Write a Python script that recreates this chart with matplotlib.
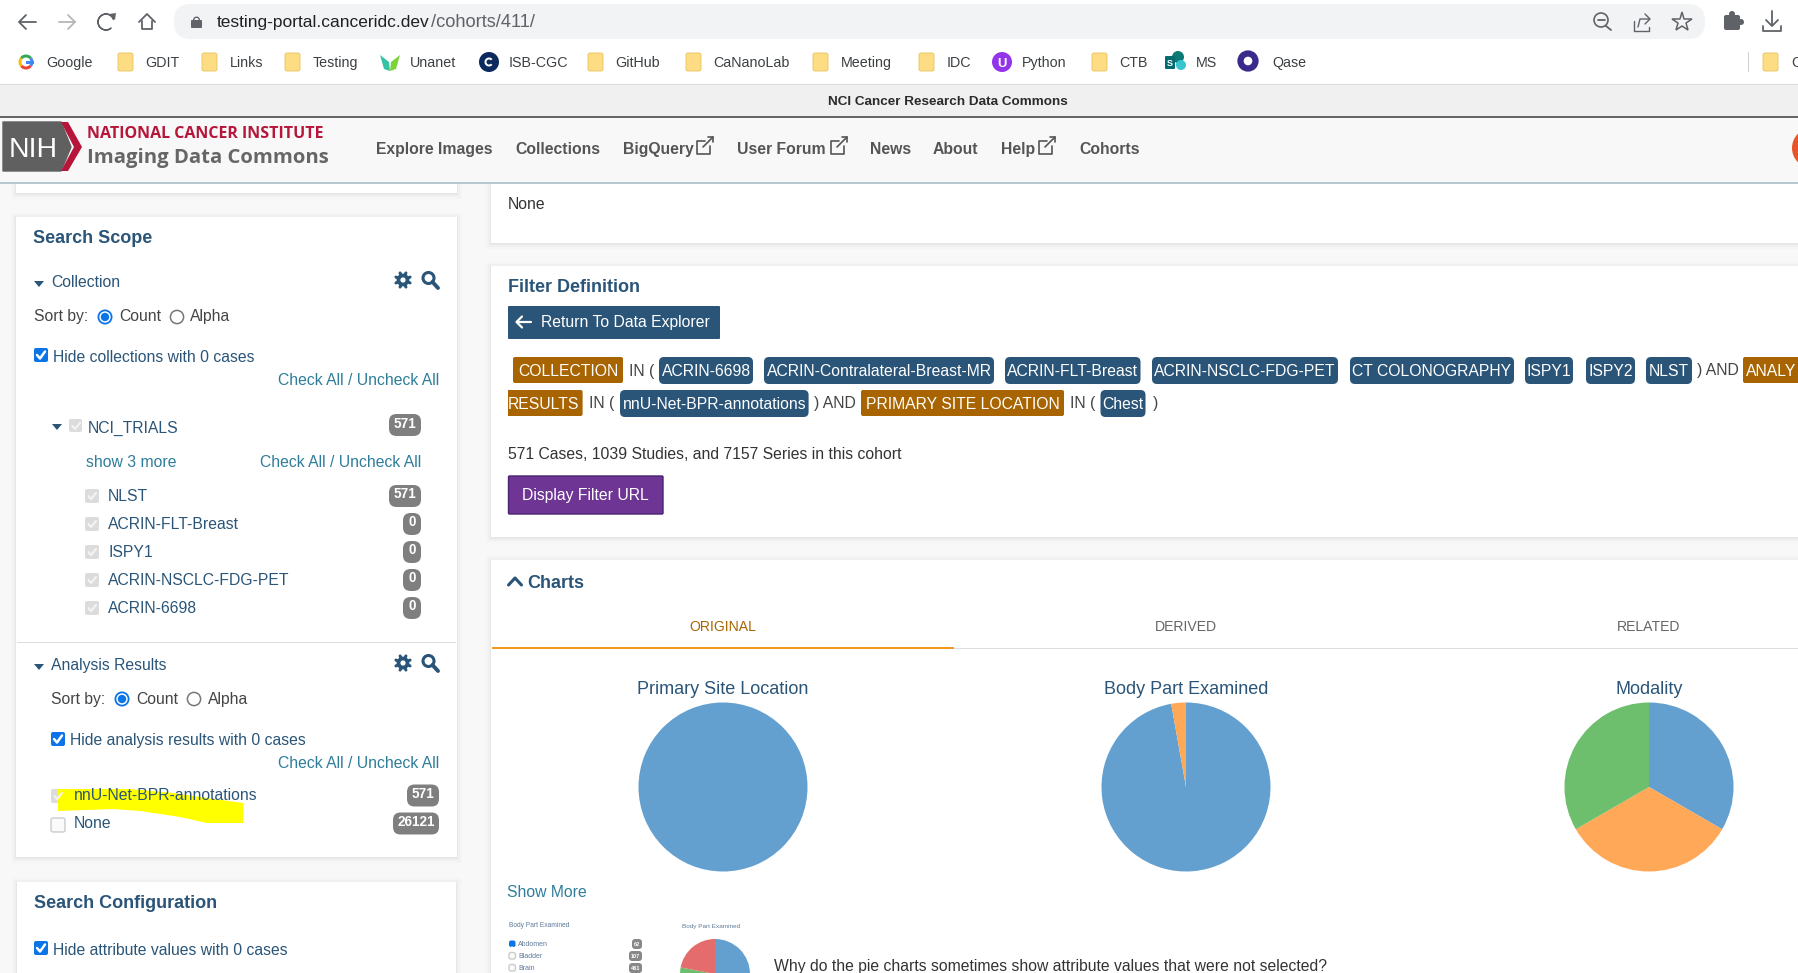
import matplotlib
matplotlib.use("Agg")
import matplotlib.pyplot as plt
import numpy as np
from matplotlib.patches import Rectangle, FancyBboxPatch, Circle, Polygon, Wedge

W = 1798
H = 973
plt.rcParams['font.family'] = ['Liberation Sans', 'DejaVu Sans']

# data
bookmarks = ["Google", "GDIT", "Links", "Testing", "Unanet", "ISB-CGC", "GitHub", "CaNanoLab",
             "Meeting", "IDC", "Python", "CTB", "MS", "Qase", "C"]
nav_items = ["Explore Images", "Collections", "BigQuery", "User Forum", "News", "About", "Help", "Cohorts"]
collection_names = ["NLST", "ACRIN-FLT-Breast", "ISPY1", "ACRIN-NSCLC-FDG-PET", "ACRIN-6698"]
collection_counts = ["571", "0", "0", "0", "0"]
analysis_names = ["nnU-Net-BPR-annotations", "None"]
analysis_counts = ["571", "26121"]
row1_chips = ["ACRIN-6698", "ACRIN-Contralateral-Breast-MR", "ACRIN-FLT-Breast", "ACRIN-NSCLC-FDG-PET",
              "CT COLONOGRAPHY", "ISPY1", "ISPY2", "NLST"]
tabs = ["ORIGINAL", "DERIVED", "RELATED"]
pie_titles = ["Primary Site Location", "Body Part Examined", "Modality"]
primary_site = [571]
body_part = [555, 16]
modality = [571, 571, 571]
mini_names = ["Abdomen", "Bladder", "Brain"]
mini_counts = ["62", "107", "461"]
mini_pie = [50, 20, 8, 22]

BLUE = "#64a0cf"
ORANGE = "#ffa857"
GREEN = "#6dbe6d"
RED = "#e56c6c"
pie_colors = [BLUE, ORANGE, GREEN, RED]
NAVY = "#2a5578"
TEAL = "#2e7d9a"
CHIP_ORANGE = "#a86400"
BADGE = "#7f7f7f"
CHECK = "#0b75e8"
FOLDER = "#fddc83"

fig = plt.figure(figsize=(W / 100, H / 100), dpi=100, facecolor="white")
ax = fig.add_axes([0, 0, 1, 1])
ax.set_xlim(0, W)
ax.set_ylim(H, 0)
ax.axis("off")


def txt(x, y, s, px=15.7, color=NAVY, weight="normal", ha="left", width=None, family=None, z=5):
    t = ax.text(x, y, s, fontsize=px * 0.72, color=color, fontweight=weight, ha=ha, va="baseline", zorder=z)
    if family:
        t.set_family(family)
    if width:
        bb = t.get_window_extent(fig.canvas.get_renderer())
        t.set_fontsize(px * 0.72 * width / bb.width)
    return t


def rect(x0, y0, x1, y1, color, z=1, alpha=None):
    ax.add_patch(Rectangle((x0, y0), x1 - x0, y1 - y0, fc=color, ec="none", zorder=z, alpha=alpha))


def rrect(x0, y0, x1, y1, color, r=4, z=2, ec="none", lw=0):
    ax.add_patch(FancyBboxPatch((x0, y0), x1 - x0, y1 - y0, boxstyle="round,pad=0,rounding_size=%g" % r,
                                fc=color, ec=ec, lw=lw, zorder=z))


def line(xs, ys, color="#5f6368", lw=1.3, z=4):
    ax.plot(xs, ys, color=color, lw=lw, zorder=z, solid_capstyle="round", solid_joinstyle="round")


def panel(x0, y0, x1, y1):
    for i, a in [(5, 0.012), (3, 0.02), (1, 0.035)]:
        rect(x0 - i, y0 - i + 1, x1 + i, y1 + i + 1, "black", z=1, alpha=a)
    rect(x0, y0, x1, y1, "white", z=1.5)


def folder(x):
    rrect(x, 53, x + 15, 71, FOLDER, r=2, z=3, ec="#e8c25c", lw=0.6)


def badge(x0, x1, yc, s):
    rrect(x0, yc - 11, x1, yc + 11, BADGE, r=7.5)
    txt((x0 + x1) / 2, yc + 2.5, s, px=13.5, color="white", weight="bold", ha="center")


def checkbox(x0, y0, kind, s=14):
    if kind == "on":
        rrect(x0, y0, x0 + s, y0 + s, CHECK, r=2)
        line([x0 + 3, x0 + 6, x0 + 11], [y0 + 7, y0 + 10.5, y0 + 3.5], color="white", lw=1.8)
    elif kind == "off":
        rrect(x0, y0, x0 + s, y0 + s, "#fafafa", r=2, ec="#cccccc", lw=1)
    else:
        rrect(x0, y0, x0 + s, y0 + s, "#dcdcdc", r=2)
        line([x0 + 3.5, x0 + 6, x0 + 11], [y0 + 7, y0 + 10, y0 + 4], color="#f4f4f4", lw=1.5)


def radio(x, y, on):
    if on:
        ax.add_patch(Circle((x, y), 6.6, fc="white", ec=CHECK, lw=1.3, zorder=3))
        ax.add_patch(Circle((x, y), 4.2, fc=CHECK, ec="none", zorder=4))
    else:
        ax.add_patch(Circle((x, y), 6.6, fc="white", ec="#777777", lw=1.1, zorder=3))


def caret(x, y):
    ax.add_patch(Polygon([(x, y), (x + 10, y), (x + 5, y + 6)], fc=NAVY, ec="none", zorder=3))


def gear_search(y):
    ax.add_patch(Circle((403, y), 6.4, fc=NAVY, ec="none", zorder=3))
    for a in np.arange(8) * np.pi / 4 + np.pi / 8:
        line([403, 403 + 7.6 * np.cos(a)], [y, y + 7.6 * np.sin(a)], color=NAVY, lw=2.2, z=3)
    ax.add_patch(Circle((403, y), 2.6, fc="white", ec="none", zorder=4))
    ax.add_patch(Circle((428.5, y - 2), 5.5, fc="none", ec=NAVY, lw=2.2, zorder=3))
    line([432.5, 438], [y + 2, y + 8], color=NAVY, lw=2.8)


def ext_icon(x):
    line([x + 8, x, x, x + 13, x + 13], [141, 141, 154, 154, 146], color="#555555", lw=1.2)
    line([x + 6, x + 16], [147, 137], color="#555555", lw=1.2)
    line([x + 11, x + 16, x + 16], [137, 137, 142], color="#555555", lw=1.2)


def chip(x0, x1, y0, y1, s, color=NAVY, r=5):
    rrect(x0, y0, x1, y1, color, r=r)
    txt((x0 + x1) / 2, y0 + 18.7, s, color="white", ha="center")


def draw_pie(cx, cy, r, values):
    pa = fig.add_axes([(cx - r) / W, 1 - (cy + r) / H, 2 * r / W, 2 * r / H])
    pa.pie(values, colors=pie_colors, startangle=90, counterclock=False, radius=1)
    pa.set_xlim(-1, 1)
    pa.set_ylim(-1, 1)
    return pa


# page background
rect(0, 84, W, H, "#f8f8f8", z=0)

# browser toolbar
rrect(174, 4, 1705, 39, "#f1f3f4", r=17)
line([20, 36], [22, 22])
line([26, 19, 26], [15, 22, 29])
line([59, 75], [22, 22], color="#b4b6b8")
line([68, 75, 68], [15, 22, 29], color="#b4b6b8")
ax.add_patch(Wedge((106, 22), 8, 50, 340, width=0.1, fc="#5f6368", ec="#5f6368", lw=1, zorder=4))
ax.add_patch(Polygon([(109, 14), (116, 13), (115, 20)], fc="#5f6368", ec="none", zorder=4))
line([139, 147, 155], [22, 14, 22])
line([142, 142, 152, 152], [21, 29, 29, 21])
rrect(191, 20, 202, 28, "#5f6368", r=1, z=4)
ax.add_patch(Wedge((196.5, 20), 3.5, 180, 360, width=1.4, fc="#5f6368", ec="none", zorder=4))
txt(217, 27, "testing-portal.canceridc.dev", color="#202124", width=214)
txt(431, 27, "/cohorts/411/", color="#5f6368", width=105)
ax.add_patch(Circle((1601, 20), 7, fc="none", ec="#5f6368", lw=1.2, zorder=4))
line([1597.5, 1604.5], [20, 20])
line([1606, 1611], [26, 30])
line([1634, 1634, 1649, 1649], [21, 31, 31, 27], lw=1)
line([1638, 1640, 1649], [27, 19, 19], lw=1)
line([1645, 1650, 1645], [14, 19, 24], lw=1)
ax.plot([1682], [22], marker="*", ms=15, mfc="none", mec="#5f6368", mew=1.1, zorder=4)
rrect(1724, 15, 1740, 30, "#5f6368", r=2, z=4)
ax.add_patch(Circle((1732, 14), 3, fc="#5f6368", ec="none", zorder=4))
ax.add_patch(Circle((1741, 22), 3, fc="#5f6368", ec="none", zorder=4))
line([1772, 1772], [11, 25])
line([1766, 1772, 1778], [20, 26, 20])
line([1763, 1763, 1781, 1781], [26, 31, 31, 26])

# bookmarks bar
bm_x = [46, 145, 230, 313, 410, 509, 615, 713, 841, 947, 1022, 1119, 1196, 1272, 1791]
for s, x in zip(bookmarks, bm_x):
    txt(x, 67, s, px=14.2, color="#3c4043")
for x in [118, 202, 285, 588, 686, 813, 919, 1092, 1763]:
    folder(x)
# little site icons
for a0, a1, c in [(-40, 40, "#4285f4"), (40, 140, "#ea4335"), (140, 220, "#fbbc05"), (220, 320, "#34a853")]:
    ax.add_patch(Wedge((26, 62), 7.5, a0, a1, width=3, fc=c, ec="none", zorder=4))
rect(26, 60.5, 34, 63.5, "#4285f4", z=4)
ax.add_patch(Polygon([(380, 55), (389, 62), (390, 71), (384, 69)], fc="#36c2a5", ec="none", zorder=4))
ax.add_patch(Polygon([(400, 55), (391, 62), (390, 71), (396, 69)], fc="#7cd33b", ec="none", zorder=4))
ax.add_patch(Circle((489, 62), 10, fc="#0c2a5e", ec="none", zorder=4))
ax.add_patch(Wedge((489, 62), 4.5, 40, 320, width=2, fc="white", ec="none", zorder=5))
ax.add_patch(Circle((1002, 62), 10, fc="#9333ea", ec="none", zorder=4))
txt(1002, 67, "U", px=13, color="white", weight="bold", ha="center")
ax.add_patch(Circle((1178, 57), 6, fc="#0b7a75", ec="none", zorder=4))
ax.add_patch(Circle((1181, 65), 5, fc="#37c6d0", ec="none", zorder=4))
rrect(1165, 56, 1175, 69, "#036c70", r=1, z=5)
txt(1170, 66, "S", px=9, color="white", weight="bold", ha="center", z=6)
ax.add_patch(Circle((1248, 61), 7.5, fc="none", ec="#3b2a8c", lw=4.5, zorder=4))
rect(1748, 52, 1749, 72, "#d0d0d0", z=3)

# NCI strip
rect(0, 84, W, 116, "#f0f0f0", z=1)
rect(0, 84, W, 85, "#d8d8d8", z=1)
rect(0, 116, W, 118, "#666666", z=2)
txt(948, 105, "NCI Cancer Research Data Commons", px=13.5, color="#2b2b2b", weight="bold", ha="center", width=239)

# nav bar
rect(0, 118, W, 182, "#f8f8f8", z=2)
rect(0, 182, W, 183.5, "#b8c8d0", z=2)
ax.add_patch(Polygon([(3, 122), (61, 122), (71, 147), (61, 171), (3, 171)], fc="#606060", ec="#606060", lw=1,
                     zorder=3, joinstyle="round"))
ax.add_patch(Polygon([(61, 122), (68, 122), (82, 147), (68, 171), (61, 171), (74, 147)], fc="#b5163a", ec="none", zorder=3))
txt(9, 157, "NIH", px=29, color="white", width=49)
txt(87, 138, "NATIONAL CANCER INSTITUTE", px=15, color="#b5163a", weight="bold", width=237, family="Open Sans")
txt(87, 163, "Imaging Data Commons", px=20, color="#666666", weight="bold", width=241, family="Open Sans")
nav_x = [376, 515, 623, 737, 870, 933, 1001, 1079]
for s, x in zip(nav_items, nav_x):
    txt(x, 154, s, color="#555555", weight="bold")
for x in [697, 831, 1039]:
    ext_icon(x)
ax.add_patch(Circle((1812, 148), 20, fc="#e8552a", ec="none", zorder=3))

# left panels
panel(16, 150, 457, 193)
rect(0, 118, W, 182, "#f8f8f8", z=2)
panel(16, 217, 457, 857)
rect(17, 642, 456, 643, "#dddddd", z=2)
txt(33, 243, "Search Scope", px=18, weight="bold")
caret(34, 281)
txt(51, 287, "Collection")
gear_search(280)
txt(34, 321, "Sort by:", color="#444444")
radio(105, 317, True)
txt(119, 321, "Count", color="#444444")
radio(177, 317, False)
txt(190, 321, "Alpha", color="#444444")
checkbox(34, 348, "on")
txt(53, 362, "Hide collections with 0 cases")
txt(439, 385, "Check All / Uncheck All", color=TEAL, ha="right")
caret(52, 424)
checkbox(69, 419, "grey", s=13)
txt(88, 433, "NCI_TRIALS")
badge(389, 421, 425, "571")
txt(86, 467, "show 3 more", color=TEAL)
txt(421, 467, "Check All / Uncheck All", color=TEAL, ha="right")
for i, (s, c) in enumerate(zip(collection_names, collection_counts)):
    y = 501 + 28 * i
    checkbox(85, y - 12, "grey")
    txt(108, y, s)
    badge(389 if len(c) == 3 else 403, 421, y - 5, c)

caret(34, 664)
txt(51, 670, "Analysis Results")
gear_search(663)
txt(51, 704, "Sort by:", color="#444444")
radio(122, 699, True)
txt(136, 704, "Count", color="#444444")
radio(194, 699, False)
txt(208, 704, "Alpha", color="#444444")
checkbox(51, 732, "on")
txt(70, 745, "Hide analysis results with 0 cases")
txt(439, 768, "Check All / Uncheck All", color=TEAL, ha="right")
checkbox(51, 789, "grey")
ax.add_patch(Polygon([(58, 789), (83, 789), (130, 789), (173, 793), (207, 798), (243, 803), (243, 823),
                      (207, 823), (180, 817), (140, 811), (113, 809), (58, 811)], fc="#ffff00", ec="none", zorder=3.5))
checkbox(51, 818, "off")
for s, y in zip(analysis_names, [800, 828]):
    txt(74, y, s)
badge(407, 439, 795.5, analysis_counts[0])
badge(393, 439, 823.5, analysis_counts[1])

panel(17, 882, 456, H + 10)
txt(34, 908, "Search Configuration", px=18, weight="bold")
checkbox(34, 941, "on")
txt(53, 955, "Hide attribute values with 0 cases")

# right panels
panel(491, 170, W + 10, 243)
rect(0, 118, W, 182, "#f8f8f8", z=2)
rect(0, 182, W, 183.5, "#b8c8d0", z=2)
txt(508, 209, "None", color="#333333")

panel(491, 266, W + 10, 537)
txt(508, 292, "Filter Definition", px=18, weight="bold")
rrect(508, 306, 720, 339, NAVY, r=1)
line([517, 531], [322, 322], color="white", lw=1.6)
line([522, 516.5, 522], [316.5, 322, 327.5], color="white", lw=1.6)
txt(541, 327, "Return To Data Explorer", color="white")

chip(513, 623, 357, 383, "COLLECTION", color=CHIP_ORANGE, r=2)
txt(629, 376, "IN (", color="#444444")
row1_x = [(659, 753), (764, 994), (1005, 1140.5), (1152, 1338), (1350, 1514), (1525, 1573), (1586, 1635), (1646, 1692)]
for s, (x0, x1) in zip(row1_chips, row1_x):
    chip(x0, x1, 357, 384, s)
txt(1697, 375, ") AND", color="#444444")
rrect(1743, 357, W + 8, 383, CHIP_ORANGE, r=2)
txt(1746, 375.7, "ANALY", color="white")

chip(504, 582.6, 390, 416, "RESULTS", color=CHIP_ORANGE, r=2)
rect(491, 388, 508, 420, "white", z=3)
txt(589, 408, "IN (", color="#444444")
chip(620, 808.6, 390, 417, "nnU-Net-BPR-annotations")
txt(813.6, 408, ") AND", color="#444444")
chip(861, 1064, 390, 416, "PRIMARY SITE LOCATION", color=CHIP_ORANGE, r=2)
txt(1070, 408, "IN (", color="#444444")
chip(1100.5, 1145.5, 390, 417, "Chest")
txt(1153, 408, ")", color="#444444")

txt(508, 459, "571 Cases, 1039 Studies, and 7157 Series in this cohort", color="#333333")
rrect(508.5, 476, 663, 514, "#6f3594", r=1, ec="#4a2270", lw=1)
txt(585.5, 500, "Display Filter URL", color="white", ha="center")

panel(491, 559.5, W + 10, H + 10)
line([508.5, 515, 521.5], [585, 578, 585], color=NAVY, lw=2.2)
txt(527, 588, "Charts", px=18, weight="bold")
tab_x = [723, 1186, 1649]
tab_c = ["#a86400", "#666666", "#666666"]
for s, x, c in zip(tabs, tab_x, tab_c):
    txt(x, 631, s, px=14, color=c, ha="center")
rect(954, 647.5, W, 648.5, "#dddddd", z=2)
rect(492, 647, 954, 649, "#f39a1e", z=3)
for s, x in zip(pie_titles, tab_x):
    txt(x, 694, s, px=18, ha="center")
draw_pie(723, 787, 84.5, primary_site)
draw_pie(1186, 787, 84.5, body_part)
draw_pie(1649, 787, 84.5, modality)
txt(507, 897, "Show More", color=TEAL)

# screenshot pasted into the help text
txt(509, 927, "Body Part Examined", px=7.5, color="#5d7a97", width=61)
txt(682, 928, "Body Part Examined", px=7.5, color="#5d7a97", width=58)
for i, (s, c) in enumerate(zip(mini_names, mini_counts)):
    y = 944 + 12 * i
    checkbox(509, y - 3.5, "on" if i == 0 else "off", s=6.5)
    txt(518, y + 2.5, s, px=7, color="#5d7a97")
    x0 = 632 if i == 0 else 629
    rrect(x0, y - 5, 642, y + 5, "#888888", r=3)
    txt((x0 + 642) / 2, y + 2, c, px=5.5, color="white", weight="bold", ha="center")
draw_pie(715, 974, 35, mini_pie)
txt(774, 971, "Why do the pie charts sometimes show attribute values that were not selected?", color="#333333")

fig.savefig("out.png", dpi=100)
